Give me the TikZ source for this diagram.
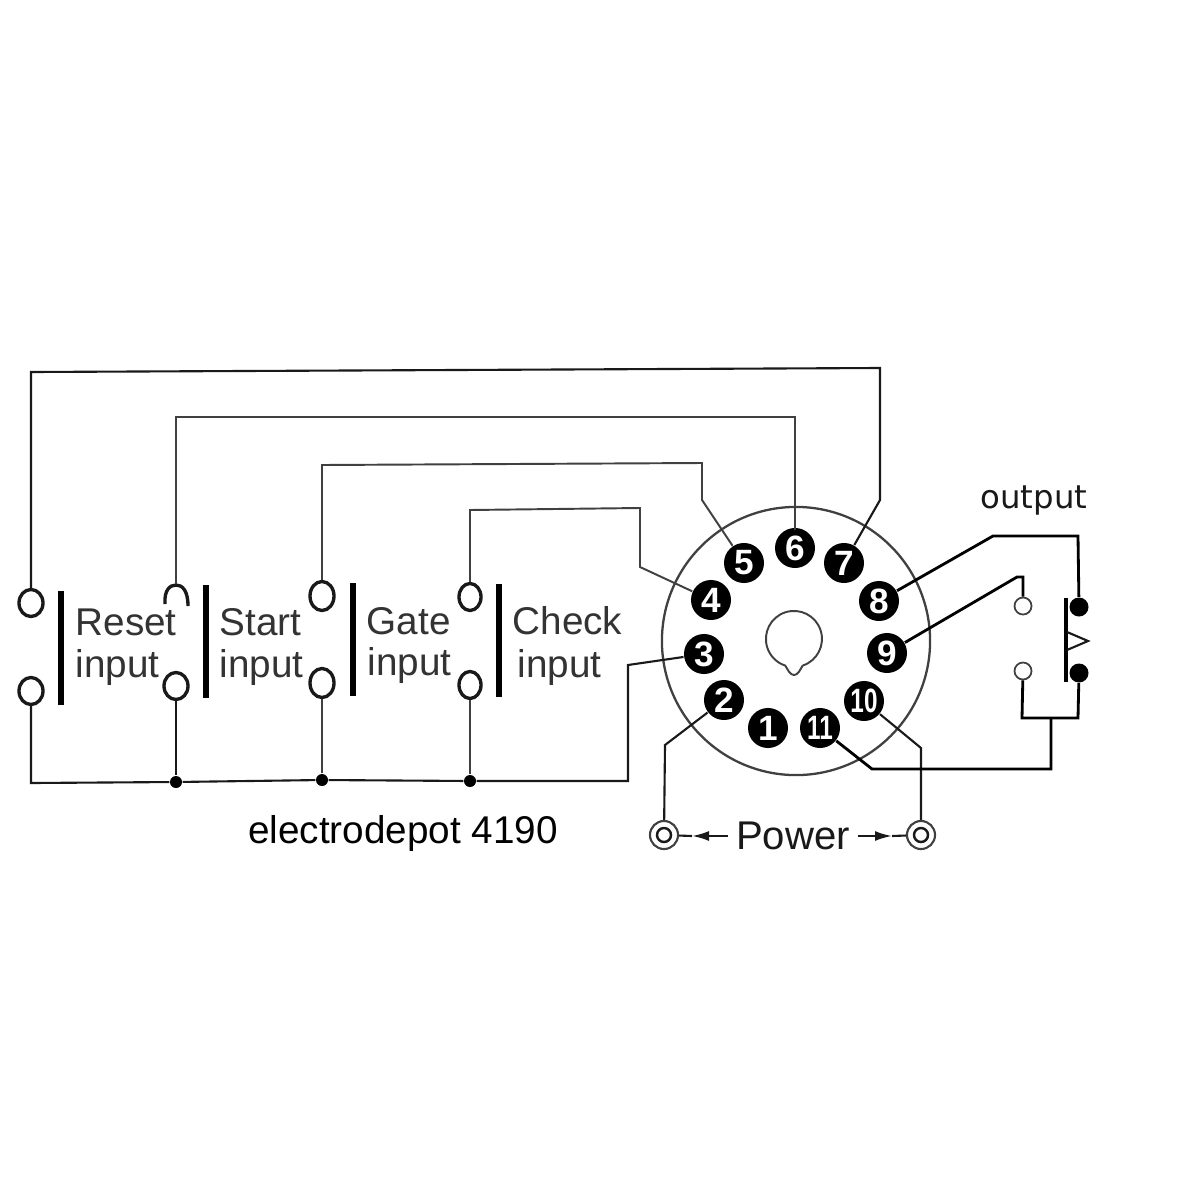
\documentclass[tikz,border=0pt]{standalone}
\usepackage{fontspec}
\setmainfont{Liberation Sans}
\newfontfamily\dvfont{DejaVu Sans}
\usetikzlibrary{shapes.geometric,arrows.meta}
\definecolor{ink}{gray}{0.1}
\definecolor{soft}{gray}{0.25}
\definecolor{labelgray}{gray}{0.2}
\tikzset{
  wire/.style={draw=ink,line width=0.6pt,line join=miter},
  softwire/.style={draw=soft,line width=0.55pt},
  heavywire/.style={draw=black,line width=0.8pt},
  bar/.style={draw=black,line width=1.6pt},
  term/.style={shape=ellipse,draw=ink,line width=0.95pt,fill=white,inner sep=0pt,minimum width=0.24cm,minimum height=0.27cm},
  pin/.style={shape=circle,fill=black,inner sep=0pt,minimum size=0.4cm,text=white,font=\fontsize{10}{10}\bfseries\selectfont},
  pinwide/.style={shape=circle,fill=black,inner sep=0pt,minimum size=0.4cm},
  narrownum/.style={text=white,inner sep=0pt,font=\fontsize{9.6}{10}\bfseries\selectfont,xscale=0.72},
  jun/.style={shape=circle,fill=black,inner sep=0pt,minimum size=0.12cm},
  lab/.style={anchor=base west,inner sep=0pt,text=labelgray,font=\fontsize{11}{12}\selectfont},
  pow/.style={shape=circle,draw=soft,line width=0.6pt,inner sep=0pt,minimum size=0.28cm,fill=white},
  powin/.style={shape=circle,draw=ink,line width=0.7pt,inner sep=0pt,minimum size=0.14cm},
  small/.style={shape=circle,draw=soft,line width=0.5pt,inner sep=0pt,minimum size=0.17cm,fill=white},
  dot/.style={shape=circle,fill=black,inner sep=0pt,minimum size=0.19cm}
}
\begin{document}
\begin{tikzpicture}[x=0.01cm,y=-0.01cm]
\useasboundingbox (0,0) rectangle (1200,1200);
\fill[white] (0,0) rectangle (1200,1200);

% socket body
\draw[softwire,line width=0.65pt] (796,641) circle[radius=1.34cm];
\draw[softwire] (802.6,665.6) arc[start angle=-72,end angle=252,radius=0.28cm]
  .. controls (788,670) and (790,675) .. (794,675)
  .. controls (798,675) and (800,670) .. (802.6,665.6);

% pins
\node[pin] (p1) at (768,728) {1};
\node[pin] (p2) at (724,700) {2};
\node[pin] (p3) at (704,654) {3};
\node[pin] (p4) at (711,600) {4};
\node[pin] (p5) at (744,563) {5};
\node[pin] (p6) at (795,548) {6};
\node[pin] (p7) at (844,563) {7};
\node[pin] (p8) at (879,601) {8};
\node[pin] (p9) at (887,653) {9};
\node[pinwide] (p10) at (864,701) {};
\node[narrownum] (n10) at (864,701) {10};
\node[pinwide] (p11) at (820,728) {};
\node[narrownum] (n11) at (820,728) {11};

% input terminals
\node[term] (ra) at (31,603) {};
\node[term] (rb) at (31,691) {};
\coordinate (sa) at (176,584);
\node[term] (sb) at (176,686) {};
\node[term,minimum height=0.29cm] (ga) at (322,596) {};
\node[term,minimum height=0.29cm] (gb) at (322,683) {};
\node[term,minimum width=0.22cm,minimum height=0.27cm] (ca) at (470,597) {};
\node[term,minimum width=0.22cm,minimum height=0.27cm] (cb) at (470,685) {};
\draw[ink,line width=0.95pt] (165,604) .. controls (164,590) and (170,585) .. (176,585)
  .. controls (182,585) and (188,590) .. (188,606);

% separator bars
\draw[bar] (61,591) -- (61,705);
\draw[bar] (206,585) -- (206,698);
\draw[bar] (353,583) -- (353,696);
\draw[bar] (499,584) -- (499,697);

% input labels
\node[lab] (l1a) at (75,635) {Reset};
\node[lab] (l1b) at (75,677) {input};
\node[lab] (l2a) at (219,635) {Start};
\node[lab] (l2b) at (219,677) {input};
\node[lab] (l3a) at (366,634) {Gate};
\node[lab] (l3b) at (367,675) {input};
\node[lab] (l4a) at (512,634) {Check};
\node[lab] (l4b) at (517,677) {input};

% upper wires
\draw[wire] (ra) -- (31,372) -- (880,368) -- (880,500) -- (p7);
\draw[softwire] (sa) -- (176,417) -- (795,417) -- (795,530) -- (p6);
\draw[softwire] (ga) -- (322,465) -- (702,463) -- (702,500) -- (p5);
\draw[softwire] (ca) -- (470,510) -- (640,508) -- (640,567) -- (p4);

% common rail
\node[jun] (j1) at (176,782) {};
\node[jun] (j2) at (322,780) {};
\node[jun] (j3) at (470,781) {};
\draw[wire] (rb) -- (31,783) -- (j1);
\draw[wire] (j1) -- (j2);
\draw[wire] (j2) -- (j3);
\draw[wire] (j3) -- (628,781) -- (628,665) -- (p3);
\draw[wire] (sb) -- (j1);
\draw[softwire] (gb) -- (j2);
\draw[softwire] (cb) -- (j3);

% power
\node[pow] (tl) at (664,835) {};
\node[powin] (tli) at (664,835) {};
\node[pow] (tr) at (921,835) {};
\node[powin] (tri) at (921,835) {};
\node[inner sep=2pt,text=ink,font=\fontsize{11.4}{12}\selectfont] (power) at (793,836) {Power};
\coordinate (al) at (692,836);
\coordinate (ar) at (892,836);
\draw[wire,-{Latex[length=0.17cm,width=0.1cm]}] (power.west) -- (al);
\draw[wire] (al) -- (tl);
\draw[wire,-{Latex[length=0.17cm,width=0.1cm]}] (power.east) -- (ar);
\draw[wire] (ar) -- (tr);
\draw[wire] (p2) -- (665,745) -- (tl);
\draw[wire] (p10) -- (921,748) -- (tr);

% output contact
\node[small] (oa) at (1023,606) {};
\node[small] (ob) at (1023,671) {};
\node[dot] (da) at (1079,607) {};
\node[dot] (db) at (1079,673) {};
\draw[black,line width=0.9pt] (1066,598) -- (1066,682);
\draw[ink,line width=0.6pt] (1067,632) -- (1088,641) -- (1067,650);
\draw[heavywire] (p8) -- (993,536) -- (1078,536) -- (da);
\draw[heavywire] (p9) -- (1017,577) -- (1023,577) -- (oa);
\draw[heavywire] (ob) -- (1022,718) -- (1078,718) -- (db);
\coordinate (m) at (1051,718);
\draw[heavywire] (p11) -- (872,769) -- (1051,769) -- (m);

% added captions
\node[anchor=base,inner sep=0pt,text=ink,font=\dvfont\fontsize{9.2}{10}\selectfont] (out) at (1034,508) {output};
\node[anchor=base,inner sep=0pt,text=black,font=\fontsize{11}{12}\selectfont] (cap) at (403,843) {electrodepot 4190};
\end{tikzpicture}
\end{document}
